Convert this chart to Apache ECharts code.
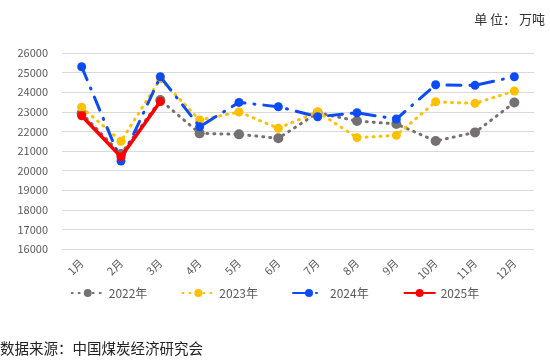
<!DOCTYPE html>
<html><head><meta charset="utf-8">
<script src="https://cdn.jsdelivr.net/npm/echarts@6/dist/echarts.min.js"></script>
<style>html,body{margin:0;padding:0;background:#fff}#c{width:550px;height:362px}</style>
</head><body><div id="c"></div>
<script>
const months = ['1月','2月','3月','4月','5月','6月','7月','8月','9月','10月','11月','12月'];
const s2022 = [22920, 20850, 23600, 21900, 21850, 21650, 22950, 22530, 22380, 21510, 21950, 23470];
const s2023 = [23230, 21500, 24680, 22580, 22990, 22160, 23000, 21680, 21800, 23510, 23430, 24060];
const s2024 = [25300, 20490, 24790, 22240, 23480, 23260, 22750, 22950, 22630, 24380, 24350, 24790];
const s2025 = [22800, 20700, 23520];
const yTicks = {min:16000, max:26000, interval:1000};

const chart = echarts.init(document.getElementById('c'));
const txt = '#595959';
chart.setOption({
  animation:false,
  textStyle:{fontFamily:'"Noto Sans CJK SC", "Noto Sans", sans-serif'},
  grid:{left:62, right:16, top:53, bottom:113, containLabel:false},
  graphic:[
    {type:'text', right:5, top:13, style:{text:'单 位： 万吨', fontSize:13, fill:'#333', fontFamily:'"Noto Sans CJK SC", sans-serif'}},
    {type:'text', left:0, top:341, style:{text:'数据来源：中国煤炭经济研究会', fontSize:14.5, fill:'#222', fontFamily:'"Noto Sans CJK SC", sans-serif'}}
  ],
  legend:{
    bottom:58, left:'center', itemGap:34, itemWidth:32, itemHeight:10,
    textStyle:{color:txt, fontSize:12},
    data:['2022年','2023年','2024年','2025年']
  },
  xAxis:{
    type:'category', data:months, boundaryGap:true,
    axisLine:{lineStyle:{color:'#d9d9d9'}}, axisTick:{show:false},
    axisLabel:{color:txt, fontSize:11, rotate:45, margin:12}
  },
  yAxis:{
    type:'value', min:yTicks.min, max:yTicks.max, interval:yTicks.interval,
    axisLine:{show:false}, axisTick:{show:false},
    axisLabel:{color:txt, fontSize:11, margin:14, formatter:(v)=>String(v)},
    splitLine:{lineStyle:{color:'#d9d9d9', width:1}}
  },
  series:[
    {name:'2022年', type:'line', data:s2022, symbol:'circle', symbolSize:10, z:2,
     itemStyle:{color:'#767171'}, lineStyle:{color:'#767171', width:3, type:[1,6], cap:'round'}},
    {name:'2023年', type:'line', data:s2023, symbol:'circle', symbolSize:9, z:3,
     itemStyle:{color:'#FFC000'}, lineStyle:{color:'#FFC000', width:3, type:[1,6], cap:'round'}},
    {name:'2024年', type:'line', data:s2024, symbol:'circle', symbolSize:9, z:4,
     itemStyle:{color:'#0D4CF5'}, lineStyle:{color:'#0D4CF5', width:3, type:[14,9,1,9], cap:'round'}},
    {name:'2025年', type:'line', data:s2025, symbol:'circle', symbolSize:9, z:5,
     itemStyle:{color:'#FF0000'}, lineStyle:{color:'#FF0000', width:3.5, type:'solid'}}
  ]
});
</script></body></html>
